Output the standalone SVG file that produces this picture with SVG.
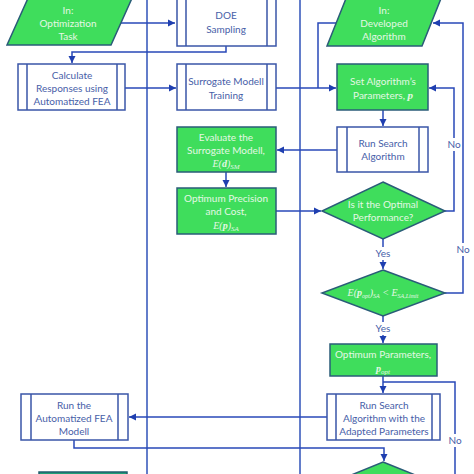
<svg xmlns="http://www.w3.org/2000/svg" width="474" height="474" viewBox="0 0 474 474">
<defs>
<marker id="ah" markerUnits="userSpaceOnUse" markerWidth="8" markerHeight="8" refX="7" refY="4" orient="auto">
<path d="M0,0.5 L7,4 L0,7.5 Z" fill="#1f3fb0"/>
</marker>
<style>
text{font-family:Lato,"Open Sans","Liberation Sans",sans-serif;font-size:10px;text-anchor:middle}
.g{fill:#3fdd5c;stroke:#2a5c78;stroke-width:1.5}
.w{fill:#ffffff;stroke:#3a56a8;stroke-width:1.5}
.bar{fill:none;stroke:#3a56a8;stroke-width:1.5}
.tg{fill:#e4f8e4}
.tw{fill:#4760a8}
.c{fill:none;stroke:#2848b8;stroke-width:1.5}
.lane{stroke:#2f52b8;stroke-width:1.5}
.lbl{fill:#4760a8}
.bg{fill:#ffffff}
.it{font-style:italic;font-family:"Liberation Serif",serif}
</style>
</defs>
<rect width="474" height="474" fill="#ffffff"/>
<g id="lanes">
<line class="lane" x1="147" y1="0" x2="147" y2="474"/>
<line class="lane" x1="300" y1="0" x2="300" y2="474"/>
</g>
<g id="connectors">
<path class="c" d="M117,23 H175" marker-end="url(#ah)"/>
<path class="c" d="M226,46 V52 H72 V63" marker-end="url(#ah)"/>
<path class="c" d="M125,88 H176" marker-end="url(#ah)"/>
<path class="c" d="M276,88 H336" marker-end="url(#ah)"/>
<path class="c" d="M337,23 H318 V88"/>
<path class="c" d="M383,110 V126" marker-end="url(#ah)"/>
<path class="c" d="M337,150 H277" marker-end="url(#ah)"/>
<path class="c" d="M226,172 V187" marker-end="url(#ah)"/>
<path class="c" d="M276,211 H321" marker-end="url(#ah)"/>
<path class="c" d="M445,211 H454 V88 H429" marker-end="url(#ah)"/>
<path class="c" d="M383,239 V269" marker-end="url(#ah)"/>
<path class="c" d="M445,293 H463 V23 H433" marker-end="url(#ah)"/>
<path class="c" d="M383,316 V343" marker-end="url(#ah)"/>
<path class="c" d="M383,376 V393" marker-end="url(#ah)"/>
<path class="c" d="M455,474 V382 H383"/>
<path class="c" d="M327,417 H129" marker-end="url(#ah)"/>
<path class="c" d="M74,440 V448 H384 V461" marker-end="url(#ah)"/>
<rect class="bg" x="446" y="138" width="16" height="13"/>
<text class="lbl" x="454" y="148">No</text>
<rect class="bg" x="455" y="243" width="16" height="13"/>
<text class="lbl" x="463" y="253">No</text>
<rect class="bg" x="447" y="434" width="16" height="13"/>
<text class="lbl" x="455" y="444">No</text>
<rect class="bg" x="374" y="247" width="18" height="13"/>
<text class="lbl" x="383" y="257">Yes</text>
<rect class="bg" x="374" y="322" width="18" height="13"/>
<text class="lbl" x="383" y="332">Yes</text>
</g>
<g id="opt-task">
<polygon class="g" points="7,45 111,45 133,-4 29,-4"/>
<text class="tg" x="68" y="14">In:</text>
<text class="tg" x="68" y="27">Optimization</text>
<text class="tg" x="68" y="40">Task</text>
</g>
<g id="doe">
<rect class="w" x="177" y="-4" width="99" height="50"/>
<path class="bar" d="M186,-4 V46 M267,-4 V46"/>
<text class="tw" x="226" y="19">DOE</text>
<text class="tw" x="226" y="33">Sampling</text>
</g>
<g id="calc">
<rect class="w" x="18" y="64" width="107" height="46"/>
<path class="bar" d="M27,64 V110 M117,64 V110"/>
<text class="tw" x="72" y="79">Calculate</text>
<text class="tw" x="72" y="92">Responses using</text>
<text class="tw" x="72" y="105">Automatized FEA</text>
</g>
<g id="surrogate-training">
<rect class="w" x="177" y="64" width="99" height="46"/>
<path class="bar" d="M186,64 V110 M267,64 V110"/>
<text class="tw" x="226" y="85">Surrogate Modell</text>
<text class="tw" x="226" y="99">Training</text>
</g>
<g id="dev-algo">
<polygon class="g" points="327,46 422,46 442,-4 347,-4"/>
<text class="tg" x="384" y="14">In:</text>
<text class="tg" x="384" y="27">Developed</text>
<text class="tg" x="384" y="40">Algorithm</text>
</g>
<g id="set-params">
<rect class="g" x="337" y="64" width="91" height="46"/>
<text class="tg" x="383" y="85">Set Algorithm’s</text>
<text class="tg" x="383" y="99">Parameters, <tspan class="it" font-weight="bold" font-size="11">p</tspan></text>
</g>
<g id="run-search">
<rect class="w" x="337" y="127" width="91" height="45"/>
<path class="bar" d="M347,127 V172 M419,127 V172"/>
<text class="tw" x="383" y="147">Run Search</text>
<text class="tw" x="383" y="160">Algorithm</text>
</g>
<g id="evaluate">
<rect class="g" x="177" y="127" width="99" height="45"/>
<text class="tg" x="226" y="141">Evaluate the</text>
<text class="tg" x="226" y="154">Surrogate Modell,</text>
<text class="tg" x="226" y="167" font-size="11"><tspan class="it">E</tspan><tspan class="it">(</tspan><tspan class="it" font-weight="bold">d</tspan><tspan class="it">)</tspan><tspan class="it" font-size="7" dy="2">SM</tspan></text>
</g>
<g id="opt-precision">
<rect class="g" x="177" y="188" width="99" height="46"/>
<text class="tg" x="226" y="202">Optimum Precision</text>
<text class="tg" x="226" y="215">and Cost,</text>
<text class="tg" x="226" y="229" font-size="11"><tspan class="it">E</tspan><tspan class="it">(</tspan><tspan class="it" font-weight="bold">p</tspan><tspan class="it">)</tspan><tspan class="it" font-size="7" dy="2">SA</tspan></text>
</g>
<g id="decision-optimal">
<polygon class="g" points="383,182 445,211 383,239 322,211"/>
<text class="tg" x="383" y="208">Is it the Optimal</text>
<text class="tg" x="383" y="221">Performance?</text>
</g>
<g id="decision-limit">
<polygon class="g" points="383,270 445,293 383,316 322,293"/>
<text class="tg" x="383" y="296" font-size="10"><tspan class="it">E</tspan><tspan class="it">(</tspan><tspan class="it" font-weight="bold">p</tspan><tspan class="it" font-size="6" dy="2">opt</tspan><tspan class="it" dy="-2">)</tspan><tspan class="it" font-size="6" dy="2">SA</tspan><tspan class="it" dy="-2"> &lt; </tspan><tspan class="it">E</tspan><tspan class="it" font-size="6" dy="2">SA,Limit</tspan></text>
</g>
<g id="opt-params">
<rect class="g" x="330" y="344" width="107" height="32"/>
<text class="tg" x="383" y="358">Optimum Parameters,</text>
<text class="tg" x="383" y="372" font-size="11"><tspan class="it" font-weight="bold">p</tspan><tspan class="it" font-size="7" dy="2">opt</tspan></text>
</g>
<g id="run-adapted">
<rect class="w" x="327" y="394" width="113" height="46"/>
<path class="bar" d="M336,394 V440 M432,394 V440"/>
<text class="tw" x="384" y="409">Run Search</text>
<text class="tw" x="384" y="422">Algorithm with the</text>
<text class="tw" x="384" y="435">Adapted Parameters</text>
</g>
<g id="run-fea">
<rect class="w" x="21" y="394" width="107" height="46"/>
<path class="bar" d="M31,394 V440 M118,394 V440"/>
<text class="tw" x="74" y="409">Run the</text>
<text class="tw" x="74" y="422">Automatized FEA</text>
<text class="tw" x="74" y="435">Modell</text>
</g>
<g id="decision-bottom">
<polygon class="g" points="383,462 445,487 383,512 322,487"/>
</g>
<g id="bottom-box">
<rect x="39" y="472" width="88" height="10" fill="#1f9e76" stroke="#1f5e6e" stroke-width="1.5"/>
</g>
</svg>
